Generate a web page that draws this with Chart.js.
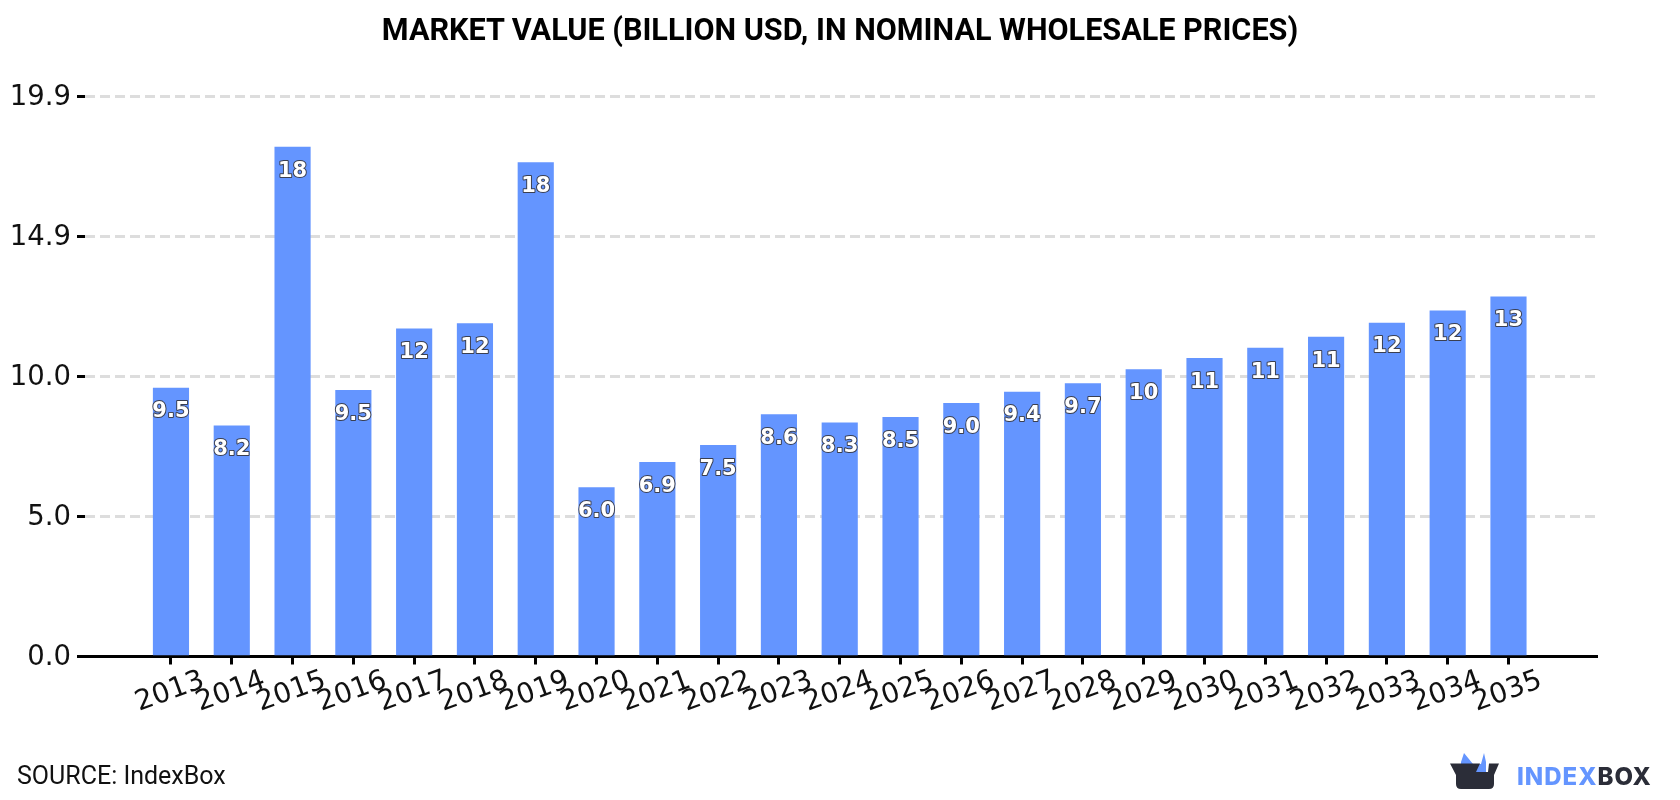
<!DOCTYPE html>
<html>
<head>
<meta charset="utf-8">
<title>Market value</title>
<script src="https://cdn.jsdelivr.net/npm/chart.js@4/dist/chart.umd.js"></script>
<style>
  html, body { margin: 0; padding: 0; background: #fff; }
  #wrap { position: relative; width: 1680px; height: 800px; overflow: hidden; }
  #title { position: absolute; left: 0; top: 12px; width: 1680px; text-align: center; font: bold 30.6px/36px Roboto, sans-serif; color: #000; }
  #source { position: absolute; left: 17px; top: 761px; font: 25px Roboto, sans-serif; color: #111; }
  #logo { position: absolute; left: 1440px; top: 740px; }
  canvas { display: block; }
</style>
</head>
<body>
<div id="wrap">
  <canvas id="chart" width="1680" height="800"></canvas>
  <div id="title">MARKET VALUE (BILLION USD, IN NOMINAL WHOLESALE PRICES)</div>
  <div id="source">SOURCE: IndexBox</div>
  <svg id="logo" width="240" height="60" viewBox="1440 740 240 60">
    <path d="M1461 773 L1461 762 L1464 753 L1473 764 L1481 764 L1484 753 L1486 762 L1486 773 Z" fill="#6495ff"/>
    <path d="M1450 763.5 L1480 763.5 L1476 772 L1488 772 L1489 763.5 L1499 763.5 L1494 775 L1494 784 Q1494 789 1489 789 L1461 789 Q1456 789 1456 784 L1456 775 Z" fill="#2b2d38"/>
    <text x="1517" y="785" font-family="Inter, sans-serif" font-weight="800" font-size="24" letter-spacing="1"><tspan fill="#6495ff">INDEX</tspan><tspan fill="#2b2d38">BOX</tspan></text>
  </svg>
</div>
<script>
const categories = [2013, 2014, 2015, 2016, 2017, 2018, 2019, 2020, 2021, 2022, 2023, 2024,
  2025, 2026, 2027, 2028, 2029, 2030, 2031, 2032, 2033, 2034, 2035];
const marketValues = [9.54, 8.2, 18.1, 9.46, 11.64, 11.83, 17.55, 6.0, 6.9, 7.5, 8.6, 8.3,
  8.5, 9.0, 9.4, 9.7, 10.2, 10.6, 10.96, 11.35, 11.85, 12.28, 12.78];
const yTicks = [0, 4.975, 9.95, 14.925, 19.9];
const yTickLabels = ['0.0', '5.0', '10.0', '14.9', '19.9'];

const BLUE = '#6495ff';
const AXIS_FONT = '"DejaVu Sans", sans-serif';

// one decimal below ten, whole numbers above
function formatValue(v) {
  return v >= 10 ? v.toFixed(0) : v.toFixed(1);
}

// year labels are centred under their tick, which the rotated built-in labels can't do
const yearLabels = {
  id: 'yearLabels',
  afterDraw(chart) {
    const { ctx, scales: { x } } = chart;
    ctx.save();
    ctx.font = '28px ' + AXIS_FONT;
    ctx.fillStyle = '#111';
    ctx.textAlign = 'center';
    ctx.textBaseline = 'middle';
    x.ticks.forEach(t => {
      ctx.save();
      ctx.translate(x.getPixelForValue(t.value) - 1, 692);
      ctx.rotate(-20 * Math.PI / 180);
      ctx.fillText(String(t.value), 0, 0);
      ctx.restore();
    });
    ctx.restore();
  }
};

// white outlined value inside the top of every bar
const barValues = {
  id: 'barValues',
  afterDatasetsDraw(chart) {
    const { ctx } = chart;
    const bars = chart.getDatasetMeta(0).data;
    ctx.save();
    ctx.font = 'bold 21px ' + AXIS_FONT;
    ctx.textAlign = 'center';
    ctx.textBaseline = 'middle';
    ctx.lineJoin = 'round';
    bars.forEach((bar, i) => {
      const text = formatValue(marketValues[i]);
      ctx.lineWidth = 2;
      ctx.strokeStyle = '#3a3f50';
      ctx.strokeText(text, bar.x, bar.y + 24);
      ctx.fillStyle = '#fff';
      ctx.fillText(text, bar.x, bar.y + 24);
    });
    ctx.restore();
  }
};

new Chart(document.getElementById('chart').getContext('2d'), {
  type: 'bar',
  data: {
    datasets: [{
      data: categories.map((year, i) => ({ x: year, y: marketValues[i] })),
      backgroundColor: BLUE,
      barThickness: 35.5
    }]
  },
  options: {
    responsive: false,
    animation: false,
    layout: { padding: { left: 0, right: 83, top: 96.5, bottom: 0 } },
    plugins: {
      legend: { display: false },
      tooltip: { enabled: false }
    },
    scales: {
      x: {
        type: 'linear',
        offset: false,
        min: 2011.586,
        max: 2036.456,
        afterBuildTicks(scale) { scale.ticks = categories.map(value => ({ value })); },
        afterFit(scale) { scale.height = 143.5; },
        ticks: { display: false },
        grid: { offset: false, drawOnChartArea: false, drawTicks: true, tickLength: 8, tickColor: '#000', tickWidth: 3 },
        border: { display: true, color: '#000', width: 3 }
      },
      y: {
        min: 0,
        max: 19.9,
        afterBuildTicks(scale) { scale.ticks = yTicks.map(value => ({ value })); },
        afterFit(scale) { scale.width = 85; },
        ticks: {
          autoSkip: false,
          color: '#111',
          padding: 6,
          labelOffset: 1.5,
          font: { family: AXIS_FONT, size: 27.5 },
          callback: (v, i) => yTickLabels[i]
        },
        grid: {
          color: ctx => (ctx.tick && ctx.tick.value === 0 ? 'rgba(0,0,0,0)' : '#dddddd'),
          lineWidth: 3,
          tickLength: 8,
          tickColor: '#000',
          tickWidth: 3,
          tickBorderDash: []
        },
        border: { display: false, dash: [10, 5] }
      }
    }
  },
  plugins: [yearLabels, barValues]
});
</script>
</body>
</html>
